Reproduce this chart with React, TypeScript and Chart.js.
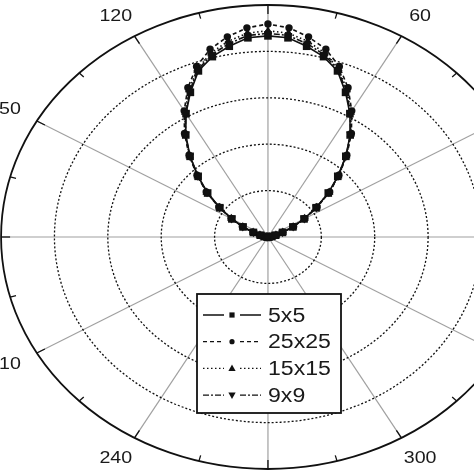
import { useEffect, useRef } from "react";
import { Chart, registerables, type Plugin } from "chart.js";

Chart.register(...registerables);

// angle in degrees, radius normalised to the outer ring (1.0)
const angles = [
  0, 5, 10, 15, 20, 25, 30, 35, 40, 45, 50, 55, 60, 65, 70, 75, 80, 85, 90,
  95, 100, 105, 110, 115, 120, 125, 130, 135, 140, 145, 150, 155, 160, 165, 170, 175, 180,
];

const r5x5 = [
  0, 0.005, 0.014, 0.03, 0.058, 0.103, 0.156, 0.22, 0.295, 0.37, 0.454, 0.537, 0.614, 0.688, 0.762, 0.805, 0.835, 0.862, 0.867,
  0.862, 0.835, 0.805, 0.762, 0.688, 0.614, 0.537, 0.454, 0.37, 0.295, 0.22, 0.156, 0.103, 0.058, 0.03, 0.014, 0.005, 0,
];
const r25x25 = [
  0, 0.005, 0.015, 0.032, 0.06, 0.106, 0.16, 0.225, 0.302, 0.376, 0.46, 0.545, 0.628, 0.71, 0.782, 0.838, 0.876, 0.905, 0.918,
  0.905, 0.876, 0.838, 0.782, 0.71, 0.628, 0.545, 0.46, 0.376, 0.302, 0.225, 0.16, 0.106, 0.06, 0.032, 0.015, 0.005, 0,
];
const r15x15 = [
  0, 0.005, 0.014, 0.031, 0.059, 0.104, 0.158, 0.222, 0.3, 0.373, 0.457, 0.541, 0.621, 0.7, 0.772, 0.822, 0.857, 0.882, 0.889,
  0.882, 0.857, 0.822, 0.772, 0.7, 0.621, 0.541, 0.457, 0.373, 0.3, 0.222, 0.158, 0.104, 0.059, 0.031, 0.014, 0.005, 0,
];
const r9x9 = [
  0, 0.005, 0.014, 0.03, 0.058, 0.104, 0.157, 0.221, 0.298, 0.371, 0.455, 0.539, 0.617, 0.694, 0.767, 0.814, 0.846, 0.872, 0.878,
  0.872, 0.846, 0.814, 0.767, 0.694, 0.617, 0.539, 0.455, 0.371, 0.298, 0.221, 0.157, 0.104, 0.058, 0.03, 0.014, 0.005, 0,
];

const angleTicks = [0, 30, 60, 90, 120, 150, 180, 210, 240, 270, 300, 330];
const minorTicks = [15, 45, 75, 105, 135, 165, 195, 225, 255, 285, 315, 345];
const rings = [0.2, 0.4, 0.6, 0.8];

const FONT = '"Liberation Sans", Arial, sans-serif';
const STRETCH = 1.155;

const toXY = (rs: number[]) =>
  rs.map((r, i) => {
    const t = (angles[i] * Math.PI) / 180;
    return { x: r * Math.cos(t), y: r * Math.sin(t) };
  });

const polarGrid: Plugin<"scatter"> = {
  id: "polarGrid",
  beforeDatasetsDraw(chart) {
    const { ctx } = chart;
    const xs = chart.scales.x;
    const ys = chart.scales.y;
    const cx = xs.getPixelForValue(0);
    const cy = ys.getPixelForValue(0);
    const rx = xs.getPixelForValue(1) - cx;
    const ry = cy - ys.getPixelForValue(1);
    ctx.save();

    // spokes
    ctx.strokeStyle = "#a0a0a0";
    ctx.lineWidth = 1.2;
    for (const a of angleTicks) {
      const t = (a * Math.PI) / 180;
      ctx.beginPath();
      ctx.moveTo(cx, cy);
      ctx.lineTo(cx + rx * Math.cos(t), cy - ry * Math.sin(t));
      ctx.stroke();
    }

    // dotted rings
    ctx.strokeStyle = "#111";
    ctx.lineWidth = 1.3;
    ctx.setLineDash([2, 2]);
    for (const v of rings) {
      ctx.beginPath();
      ctx.ellipse(cx, cy, rx * v, ry * v, 0, 0, Math.PI * 2);
      ctx.stroke();
    }
    ctx.setLineDash([]);

    // outer ring
    ctx.lineWidth = 1.8;
    ctx.beginPath();
    ctx.ellipse(cx, cy, rx, ry, 0, 0, Math.PI * 2);
    ctx.stroke();

    // ticks
    ctx.lineWidth = 1.3;
    for (const a of [...angleTicks, ...minorTicks]) {
      const t = (a * Math.PI) / 180;
      const px = cx + rx * Math.cos(t);
      const py = cy - ry * Math.sin(t);
      const dx = cx - px;
      const dy = cy - py;
      const len = Math.hypot(dx, dy);
      const l = angleTicks.includes(a) ? 9 : 6;
      ctx.beginPath();
      ctx.moveTo(px, py);
      ctx.lineTo(px + (dx / len) * l, py + (dy / len) * l);
      ctx.stroke();
    }

    // angle labels
    ctx.fillStyle = "#1a1a1a";
    ctx.font = `17px ${FONT}`;
    ctx.textAlign = "center";
    ctx.textBaseline = "middle";
    for (const a of angleTicks) {
      const t = (a * Math.PI) / 180;
      const px = cx + rx * 1.14 * Math.cos(t);
      const py = cy - ry * 1.1 * Math.sin(t);
      ctx.save();
      ctx.translate(px, py);
      ctx.scale(STRETCH, 1);
      ctx.fillText(String(a), 0, 0);
      ctx.restore();
    }
    ctx.restore();
  },
};

type Marker = "rect" | "circle" | "triangle" | "down";

function drawMarker(ctx: CanvasRenderingContext2D, kind: Marker, x: number, y: number, s: number) {
  ctx.beginPath();
  if (kind === "rect") ctx.rect(x - s, y - s, 2 * s, 2 * s);
  else if (kind === "circle") ctx.arc(x, y, s, 0, Math.PI * 2);
  else if (kind === "triangle") {
    ctx.moveTo(x, y - s * 1.2);
    ctx.lineTo(x + s * 1.1, y + s * 0.8);
    ctx.lineTo(x - s * 1.1, y + s * 0.8);
    ctx.closePath();
  } else {
    ctx.moveTo(x, y + s * 1.2);
    ctx.lineTo(x + s * 1.1, y - s * 0.8);
    ctx.lineTo(x - s * 1.1, y - s * 0.8);
    ctx.closePath();
  }
  ctx.fill();
}

const legendItems: { label: string; dash: number[]; marker: Marker }[] = [
  { label: "5x5", dash: [], marker: "rect" },
  { label: "25x25", dash: [4, 3], marker: "circle" },
  { label: "15x15", dash: [1.5, 2.5], marker: "triangle" },
  { label: "9x9", dash: [6, 2, 2, 2], marker: "down" },
];

const boxLegend: Plugin<"scatter"> = {
  id: "boxLegend",
  afterDraw(chart) {
    const { ctx } = chart;
    ctx.save();
    ctx.fillStyle = "#fff";
    ctx.fillRect(197, 294, 144, 119);
    ctx.strokeStyle = "#111";
    ctx.lineWidth = 1.8;
    ctx.strokeRect(197, 294, 144, 119);
    legendItems.forEach((it, i) => {
      const y = 315 + i * 26.7;
      ctx.strokeStyle = "#111";
      ctx.lineWidth = 1.3;
      ctx.setLineDash(it.dash);
      ctx.beginPath();
      ctx.moveTo(203, y);
      ctx.lineTo(224, y);
      ctx.moveTo(240, y);
      ctx.lineTo(261, y);
      ctx.stroke();
      ctx.setLineDash([]);
      ctx.fillStyle = "#111";
      drawMarker(ctx, it.marker, 232, y, it.marker === "rect" || it.marker === "circle" ? 2.6 : 3.3);
      ctx.fillStyle = "#1a1a1a";
      ctx.font = `20px ${FONT}`;
      ctx.textAlign = "left";
      ctx.textBaseline = "middle";
      ctx.save();
      ctx.translate(268, y + 1);
      ctx.scale(STRETCH, 1);
      ctx.fillText(it.label, 0, 0);
      ctx.restore();
    });
    ctx.restore();
  },
};

export default function App() {
  const canvasRef = useRef<HTMLCanvasElement>(null);
  const chartRef = useRef<Chart<"scatter"> | null>(null);

  useEffect(() => {
    document.body.style.margin = "0";
    const canvas = canvasRef.current;
    if (!canvas) return;
    chartRef.current?.destroy();

    const common = {
      showLine: true,
      borderColor: "#111",
      backgroundColor: "#111",
      pointBackgroundColor: "#111",
      pointBorderColor: "#111",
      borderWidth: 1.6,
      pointBorderWidth: 0,
    };

    chartRef.current = new Chart(canvas, {
      type: "scatter",
      data: {
        datasets: [
          { ...common, label: "9x9", data: toXY(r9x9), borderDash: [6, 2, 2, 2], pointStyle: "triangle", pointRotation: 180, pointRadius: 4.8 },
          { ...common, label: "15x15", data: toXY(r15x15), borderDash: [1.5, 2.5], pointStyle: "triangle", pointRadius: 4.8 },
          { ...common, label: "25x25", data: toXY(r25x25), borderDash: [4, 3], pointStyle: "circle", pointRadius: 3.7 },
          { ...common, label: "5x5", data: toXY(r5x5), pointStyle: "rect", pointRadius: 5.4 },
        ],
      },
      options: {
        animation: false,
        responsive: false,
        layout: { padding: 0, autoPadding: false },
        plugins: { legend: { display: false }, tooltip: { enabled: false } },
        scales: {
          x: { type: "linear", min: -1.004, max: 0.772, display: false },
          y: { type: "linear", min: -1.0216, max: 1.0216, display: false },
        },
      },
      plugins: [polarGrid, boxLegend],
    });

    return () => {
      chartRef.current?.destroy();
      chartRef.current = null;
    };
  }, []);

  return (
    <div style={{ width: 474, height: 474, background: "#fff" }}>
      <canvas ref={canvasRef} width={474} height={474} style={{ display: "block" }} />
    </div>
  );
}
